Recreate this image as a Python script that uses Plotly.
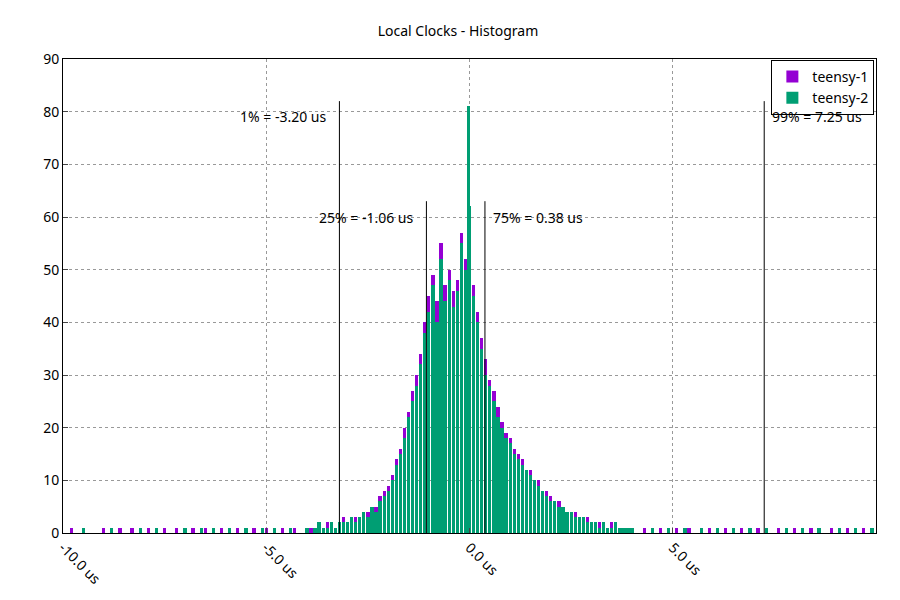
import plotly.graph_objects as go

start = -4.0
step = 0.1
teensy2 = [1,0,1,2,1,1,2,1,2,2,
           2,3,2,3,4,3,5,4,6,7,
           8,10,13,15,18,22,25,28,32,38,
           42,47,40,52,44,48,43,46,55,50,
           62,45,40,35,30,28,25,22,20,18,
           17,15,14,13,12,11,10,9,8,7,
           6,6,5,5,4,4,3,3,3,2,
           2,2,1,2,1,1,2,1,1,1,
           1]
teensy1 = [1,1,0,2,1,2,2,1,2,3,
           2,3,3,3,4,4,5,5,7,8,
           9,11,14,16,20,23,27,30,34,40,
           45,49,44,55,47,50,46,48,57,52,
           58,47,42,37,33,29,27,24,21,19,
           18,16,15,14,12,12,10,10,8,8,
           7,6,6,5,4,4,4,3,3,3,
           2,2,2,2,1,2,2,1,1,1,
           1]
spike_x = [-0.03]
spike_y = [81]
tail1_x = [-9.8,-9.0,-8.6,-8.3,-7.9,-7.5,-7.2,-6.8,-6.5,-6.1,-5.7,-5.3,-5.0,-4.6,-4.3,
           4.3,4.7,5.1,5.4,5.9,6.3,6.7,7.1,7.6,8.0,8.4,8.9,9.3,9.7]
tail2_x = [-9.5,-8.8,-8.1,-7.7,-7.0,-6.6,-6.3,-5.9,-5.5,-5.1,-4.8,-4.4,
           4.5,4.9,5.3,5.7,6.1,6.5,6.9,7.3,7.8,8.2,8.6,9.1,9.5,9.9]
pct_x = [-3.20, -1.06, 0.38, 7.25]
pct_h = [82, 63, 63, 82]
pct_lbl = ["1% = -3.20 us", "25% = -1.06 us", "75% = 0.38 us", "99% = 7.25 us"]
pct_side = ["left", "left", "right", "right"]
pct_ty = [79, 60, 60, 79]

xs = [round(start + i*step, 2) for i in range(len(teensy2))]
purple = "#9400d3"
green = "#009e73"

fig = go.Figure()
fig.add_bar(x=xs + tail1_x, y=teensy1 + [1]*len(tail1_x), width=0.08, name="teensy-1",
            marker=dict(color=purple, line=dict(width=0)))
fig.add_bar(x=xs + tail2_x + spike_x, y=teensy2 + [1]*len(tail2_x) + spike_y, width=0.08,
            name="teensy-2", marker=dict(color=green, line=dict(width=0)))
for x, h, lbl, side, ty in zip(pct_x, pct_h, pct_lbl, pct_side, pct_ty):
    fig.add_shape(type="line", x0=x, x1=x, y0=0, y1=h, line=dict(color="black", width=1))
    fig.add_annotation(x=x, y=ty, text=lbl, showarrow=False,
                       xanchor="right" if side == "left" else "left",
                       xshift=-10 if side == "left" else 6, font=dict(size=14, color="black"))

fig.update_layout(
    width=900, height=600, barmode="overlay", bargap=0,
    title=dict(text="Local Clocks - Histogram", x=0.5, y=0.97, font=dict(size=14, color="black")),
    font=dict(family="Noto Sans", size=14, color="black"),
    plot_bgcolor="white", paper_bgcolor="white",
    margin=dict(l=55, r=32, t=51, b=75, autoexpand=False),
    legend=dict(x=0.998, y=0.998, xanchor="right", yanchor="top", bordercolor="black",
                borderwidth=1, font=dict(size=14), tracegroupgap=0, itemwidth=30,
                bgcolor="white"),
    xaxis=dict(range=[-10, 10], tickvals=[-10, -5, 0, 5, 10],
               ticktext=["-10.0 us", "-5.0 us", "0.0 us", "5.0 us", "10.0 us"],
               tickangle=45, showgrid=True, gridcolor="#999", griddash="dot",
               showline=True, linecolor="black", mirror=True, ticks="inside",
               zeroline=False, automargin=False),
    yaxis=dict(range=[0, 90], dtick=10, showgrid=True, gridcolor="#999", griddash="dot",
               showline=True, linecolor="black", mirror=True, ticks="inside",
               zeroline=False, automargin=False),
)
fig.write_html("out.html")
